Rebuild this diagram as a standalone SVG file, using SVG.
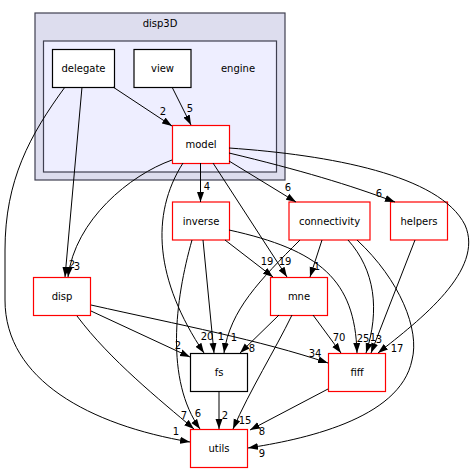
<svg xmlns="http://www.w3.org/2000/svg" width="474" height="472" viewBox="0 0 474 472">
<style>
text{font-family:"DejaVu Sans","Liberation Sans",sans-serif;font-size:10px;fill:#000;text-anchor:middle}
.n rect{fill:#fff;stroke-width:1.2}
.red rect{stroke:#ff0000}
.blk rect{stroke:#000}
.e path{fill:none;stroke:#000;stroke-width:1}
</style>
<defs>
<marker id="ah" markerUnits="userSpaceOnUse" markerWidth="10" markerHeight="8" refX="10" refY="4" orient="auto">
<path d="M0,0.5 L10,4 L0,7.5 z" fill="#000"/>
</marker>
</defs>
<rect width="474" height="472" fill="#fff"/>
<g id="cluster_disp3D">
<rect x="35" y="13" width="250" height="167" fill="#ddddee" stroke="#404050" stroke-width="1.2"/>
<text x="160" y="27">disp3D</text>
</g>
<g id="cluster_engine">
<rect x="43.5" y="41" width="233" height="131" fill="#eeeeff" stroke="#404050" stroke-width="1.2"/>
<text x="238" y="72">engine</text>
</g>
<g id="delegate" class="n blk"><rect x="52.5" y="49.5" width="62" height="38"/><text x="83.5" y="72">delegate</text></g>
<g id="view" class="n blk"><rect x="134" y="49.5" width="57" height="38"/><text x="162.5" y="72">view</text></g>
<g id="model" class="n red"><rect x="172.5" y="125.5" width="57" height="38"/><text x="201" y="148">model</text></g>
<g id="inverse" class="n red"><rect x="172.5" y="202" width="57" height="38"/><text x="201" y="225">inverse</text></g>
<g id="connectivity" class="n red"><rect x="289" y="202" width="81" height="38"/><text x="329.5" y="225">connectivity</text></g>
<g id="helpers" class="n red"><rect x="390.5" y="202" width="57" height="38"/><text x="419" y="225">helpers</text></g>
<g id="disp" class="n red"><rect x="33.5" y="277.5" width="57" height="38"/><text x="62" y="300">disp</text></g>
<g id="mne" class="n red"><rect x="270.5" y="277.5" width="57" height="38"/><text x="299" y="300">mne</text></g>
<g id="fs" class="n blk"><rect x="190.5" y="353.5" width="57" height="38"/><text x="219" y="376">fs</text></g>
<g id="fiff" class="n red"><rect x="328.5" y="353.5" width="57" height="38"/><text x="357" y="376">fiff</text></g>
<g id="utils" class="n red"><rect x="190.5" y="429.5" width="57" height="38"/><text x="219" y="452">utils</text></g>
<g id="edges" class="e">
<path d="M113,87 L172,126" marker-end="url(#ah)"/>
<path d="M172,87 L191,125" marker-end="url(#ah)"/>
<path d="M65,87 C30,135 5,180 5,250 L5,300 C5,380 90,425 190,442" marker-end="url(#ah)"/>
<path d="M82,87 L65,277" marker-end="url(#ah)"/>
<path d="M172,160 C130,175 75,220 68,277" marker-end="url(#ah)"/>
<path d="M200.5,163 L200.5,202" marker-end="url(#ah)"/>
<path d="M229,161 L296,202" marker-end="url(#ah)"/>
<path d="M229,153 C300,170 350,185 395,202" marker-end="url(#ah)"/>
<path d="M229,148 C330,155 440,175 465,225 C485,270 420,320 378,353" marker-end="url(#ah)"/>
<path d="M213,163 L287,277" marker-end="url(#ah)"/>
<path d="M183,163 C150,215 155,280 204,353" marker-end="url(#ah)"/>
<path d="M203,240 L214,353" marker-end="url(#ah)"/>
<path d="M192,240 C175,300 165,380 200,429" marker-end="url(#ah)"/>
<path d="M225,240 L273,277" marker-end="url(#ah)"/>
<path d="M229,230 C320,250 355,280 357,353" marker-end="url(#ah)"/>
<path d="M300,240 C260,280 230,310 224,353" marker-end="url(#ah)"/>
<path d="M322,240 L310,277" marker-end="url(#ah)"/>
<path d="M348,240 C375,270 380,310 366,353" marker-end="url(#ah)"/>
<path d="M357,240 C400,280 420,330 412,360 C400,420 300,440 248,448" marker-end="url(#ah)"/>
<path d="M415,240 L371,353" marker-end="url(#ah)"/>
<path d="M91,311 L190,357" marker-end="url(#ah)"/>
<path d="M91,305 C180,325 260,340 328,363" marker-end="url(#ah)"/>
<path d="M77,316 C110,360 160,400 194,429" marker-end="url(#ah)"/>
<path d="M279,315 L240,353" marker-end="url(#ah)"/>
<path d="M313,315 L341,353" marker-end="url(#ah)"/>
<path d="M292,315 C275,350 250,390 233,429" marker-end="url(#ah)"/>
<path d="M219,392 L219,429" marker-end="url(#ah)"/>
<path d="M328,389 L250,430" marker-end="url(#ah)"/>
</g>
<g id="edge-labels">
<text x="163" y="115">2</text>
<text x="190" y="112">5</text>
<text x="176" y="435">1</text>
<text x="72" y="268">2</text>
<text x="77" y="270">3</text>
<text x="207" y="190">4</text>
<text x="288" y="191">6</text>
<text x="379" y="197">6</text>
<text x="397" y="352">17</text>
<text x="285" y="265">19</text>
<text x="207" y="340">20</text>
<text x="221" y="340">1</text>
<text x="198" y="417">6</text>
<text x="267" y="265">19</text>
<text x="363" y="342">25</text>
<text x="234" y="341">1</text>
<text x="317" y="270">1</text>
<text x="373" y="341">1</text>
<text x="262" y="457">9</text>
<text x="379" y="343">3</text>
<text x="178" y="349">2</text>
<text x="315" y="357">34</text>
<text x="184" y="419">7</text>
<text x="252" y="352">8</text>
<text x="339" y="341">70</text>
<text x="245" y="424">15</text>
<text x="225" y="419">2</text>
<text x="262" y="435">8</text>
</g>
</svg>
